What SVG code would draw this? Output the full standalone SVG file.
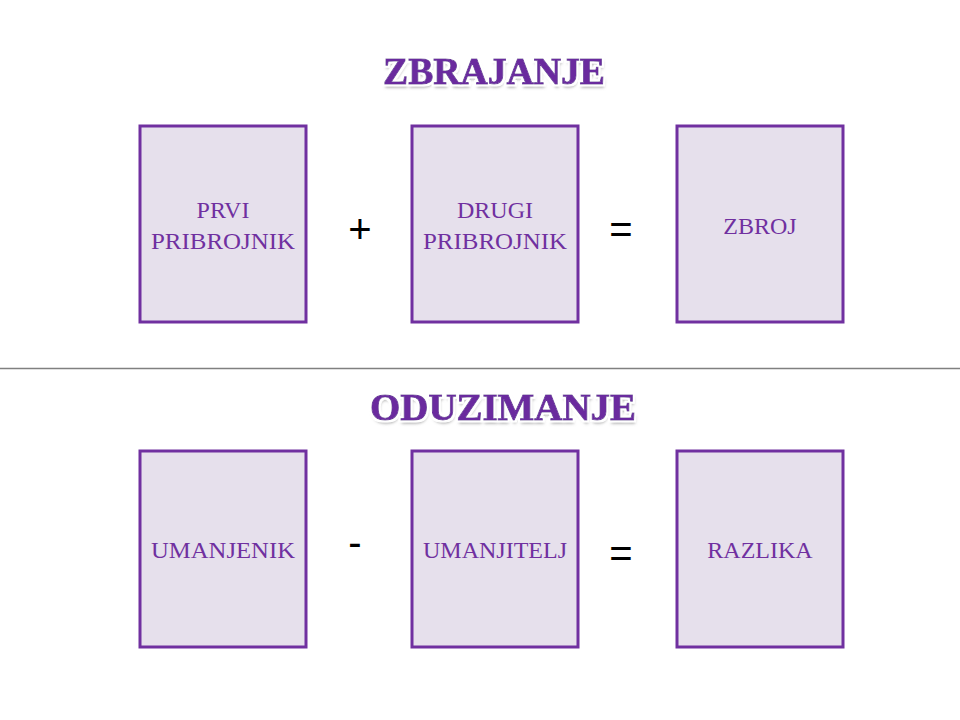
<svg xmlns="http://www.w3.org/2000/svg" width="960" height="720" viewBox="0 0 960 720">
<defs>
<filter id="sh" x="-10%" y="-30%" width="120%" height="160%">
<feGaussianBlur in="SourceAlpha" stdDeviation="1.5" result="b"/>
<feOffset in="b" dx="1" dy="3" result="o"/>
<feFlood flood-color="#808080" flood-opacity="0.7"/>
<feComposite in2="o" operator="in" result="s"/>
<feMorphology in="SourceAlpha" operator="dilate" radius="1.5" result="d"/>
<feFlood flood-color="#ffffff"/>
<feComposite in2="d" operator="in" result="w"/>
<feMerge><feMergeNode in="s"/><feMergeNode in="w"/><feMergeNode in="SourceGraphic"/></feMerge>
</filter>
</defs>
<style>
.box{fill:#E6E0EC;stroke:#7030A0;stroke-width:3}
.lbl{font-family:"Liberation Serif","DejaVu Serif",serif;font-size:24px;fill:#7030A0;text-anchor:middle}
.title{font-family:"Liberation Serif","DejaVu Serif",serif;font-size:38px;font-weight:bold;fill:#6A2A9E;stroke:#6A2A9E;stroke-width:0.9;text-anchor:middle;filter:url(#sh)}
.op{font-family:"Liberation Sans","DejaVu Sans",sans-serif;font-size:40px;fill:#000;text-anchor:middle}
</style>
<rect width="960" height="720" fill="#fff"/>
<text class="title" x="494" y="84" textLength="222" lengthAdjust="spacingAndGlyphs">ZBRAJANJE</text>
<text class="title" x="503" y="420" textLength="266" lengthAdjust="spacingAndGlyphs">ODUZIMANJE</text>
<g id="separator"><line x1="0" y1="368.5" x2="960" y2="368.5" stroke="#808080" stroke-width="1.5"/></g>
<g id="prvi-pribrojnik"><rect class="box" x="140" y="126" width="166" height="196"/>
<text class="lbl" x="223" y="218">PRVI</text><text class="lbl" x="223" y="249" textLength="144" lengthAdjust="spacingAndGlyphs">PRIBROJNIK</text></g>
<g id="drugi-pribrojnik"><rect class="box" x="412" y="126" width="166" height="196"/>
<text class="lbl" x="495" y="218">DRUGI</text><text class="lbl" x="495" y="249" textLength="144" lengthAdjust="spacingAndGlyphs">PRIBROJNIK</text></g>
<g id="zbroj"><rect class="box" x="677" y="126" width="166" height="196"/>
<text class="lbl" x="760" y="234">ZBROJ</text></g>
<g id="umanjenik"><rect class="box" x="140" y="451" width="166" height="196"/>
<text class="lbl" x="223" y="558" textLength="144" lengthAdjust="spacingAndGlyphs">UMANJENIK</text></g>
<g id="umanjitelj"><rect class="box" x="412" y="451" width="166" height="196"/>
<text class="lbl" x="495" y="558" textLength="144" lengthAdjust="spacingAndGlyphs">UMANJITELJ</text></g>
<g id="razlika"><rect class="box" x="677" y="451" width="166" height="196"/>
<text class="lbl" x="760" y="558">RAZLIKA</text></g>
<g id="operators">
<text class="op" x="360" y="243">+</text>
<text class="op" x="621" y="243">=</text>
<text class="op" x="355" y="556">-</text>
<text class="op" x="621" y="567">=</text>
</g>
</svg>
